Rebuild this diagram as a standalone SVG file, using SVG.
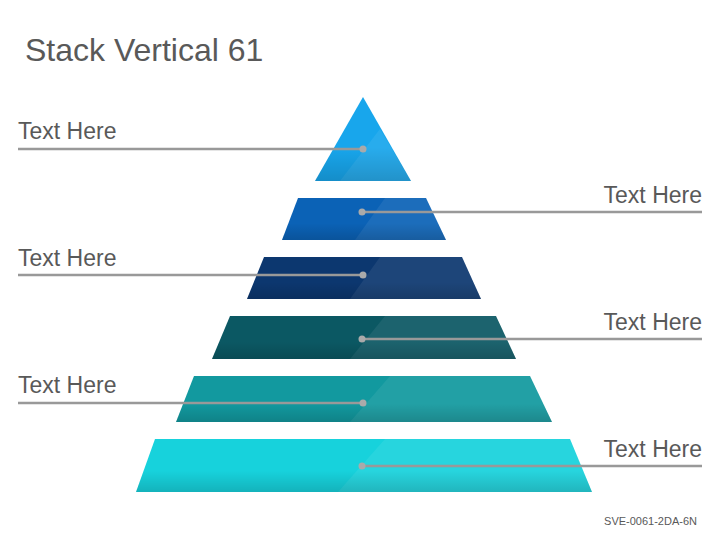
<svg xmlns="http://www.w3.org/2000/svg" width="720" height="540" viewBox="0 0 720 540">
<style>
.t{font-family:"Liberation Sans",Arial,sans-serif;fill:#595959}
.lab{font-size:23px}
.hl{fill:#fff;fill-opacity:0.07}
.ln{stroke:#999;stroke-width:2.5;fill:none}
.dot{fill:#aaa}
</style>
<defs>
<linearGradient id="sh" x1="0" y1="0" x2="0" y2="1">
<stop offset="0.6" stop-color="#000" stop-opacity="0"/>
<stop offset="1" stop-color="#000" stop-opacity="0.15"/>
</linearGradient>
</defs>
<rect width="720" height="540" fill="#fff"/>
<text class="t" x="25" y="61" font-size="32">Stack Vertical 61</text>
<g id="level1">
<polygon points="363,97 411,181 315,181" fill="#18a6ec"/>
<polygon points="411,181 340,181 380,129" class="hl"/>
<polygon points="363,97 411,181 315,181" fill="url(#sh)"/>
</g>
<g id="level2">
<polygon points="298,198 426,198 446,240 282,240" fill="#0b62b6"/>
<polygon points="385,198 426,198 446,240 355,240" class="hl"/>
<polygon points="298,198 426,198 446,240 282,240" fill="url(#sh)"/>
</g>
<g id="level3">
<polygon points="264,257 462,257 481,299 247,299" fill="#0c376f"/>
<polygon points="380,257 462,257 481,299 350,299" class="hl"/>
<polygon points="264,257 462,257 481,299 247,299" fill="url(#sh)"/>
</g>
<g id="level4">
<polygon points="230,316 496,316 516,359 212,359" fill="#0b5863"/>
<polygon points="385,316 496,316 516,359 350,359" class="hl"/>
<polygon points="230,316 496,316 516,359 212,359" fill="url(#sh)"/>
</g>
<g id="level5">
<polygon points="194,376 530,376 552,422 176,422" fill="#12999f"/>
<polygon points="390,376 530,376 552,422 350,422" class="hl"/>
<polygon points="194,376 530,376 552,422 176,422" fill="url(#sh)"/>
</g>
<g id="level6">
<polygon points="155,439 570,439 592,492 136,492" fill="#17d2dc"/>
<polygon points="385,439 570,439 592,492 338,492" class="hl"/>
<polygon points="155,439 570,439 592,492 136,492" fill="url(#sh)"/>
</g>
<g id="connectors">
<line class="ln" x1="18" y1="149" x2="363" y2="149"/><circle class="dot" cx="363" cy="149" r="3.5"/>
<line class="ln" x1="362" y1="212" x2="702" y2="212"/><circle class="dot" cx="362" cy="212" r="3.5"/>
<line class="ln" x1="18" y1="275" x2="363" y2="275"/><circle class="dot" cx="363" cy="275" r="3.5"/>
<line class="ln" x1="362" y1="339" x2="702" y2="339"/><circle class="dot" cx="362" cy="339" r="3.5"/>
<line class="ln" x1="18" y1="403" x2="363" y2="403"/><circle class="dot" cx="363" cy="403" r="3.5"/>
<line class="ln" x1="362" y1="466" x2="702" y2="466"/><circle class="dot" cx="362" cy="466" r="3.5"/>
</g>
<g id="labels">
<text class="t lab" x="18" y="139">Text Here</text>
<text class="t lab" x="702" y="203" text-anchor="end">Text Here</text>
<text class="t lab" x="18" y="266">Text Here</text>
<text class="t lab" x="702" y="330" text-anchor="end">Text Here</text>
<text class="t lab" x="18" y="393">Text Here</text>
<text class="t lab" x="702" y="457" text-anchor="end">Text Here</text>
</g>
<text class="t" x="697" y="525" font-size="11" text-anchor="end" fill="#888">SVE-0061-2DA-6N</text>
</svg>
